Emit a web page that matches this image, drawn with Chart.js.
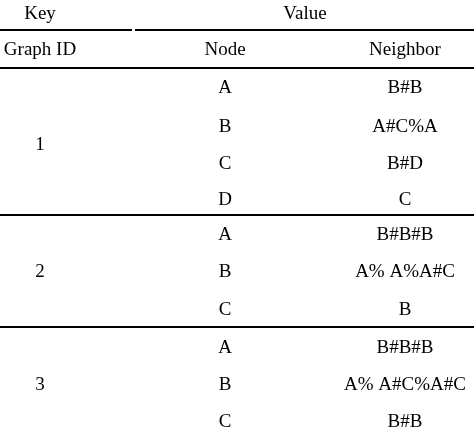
<!DOCTYPE html>
<html><head><meta charset="utf-8">
<script src="https://cdn.jsdelivr.net/npm/chart.js@4/dist/chart.umd.min.js"></script>
<style>html,body{margin:0;padding:0;background:#fff}#w{width:474px;height:437px}</style>
</head><body><div id="w"><canvas id="c"></canvas></div>
<script>
const graphIds = ["1","2","3"];
const nodes = [["A","B","C","D"],["A","B","C"],["A","B","C"]];
const neighbors = [["B#B","A#C%A","B#D","C"],["B#B#B","A% A%A#C","B"],["B#B#B","A% A#C%A#C","B#B"]];
const rowY = [[88,127,164,200],[235,272,310],[348,385,422]];
const groupY = [145,272,385];
const headerTop = ["Key","Value"];
const headerSub = ["Graph ID","Node","Neighbor"];
const colX = [40,225,405];

const texts = [];
texts.push({x:40,y:14,t:headerTop[0]});
texts.push({x:305,y:14,t:headerTop[1]});
headerSub.forEach((h,i)=>texts.push({x:colX[i],y:50,t:h}));
graphIds.forEach((g,gi)=>{
  texts.push({x:colX[0],y:groupY[gi],t:g});
  nodes[gi].forEach((n,ri)=>{
    texts.push({x:colX[1],y:rowY[gi][ri],t:n});
    texts.push({x:colX[2],y:rowY[gi][ri],t:neighbors[gi][ri]});
  });
});
const rules = [[0,132,30],[135,474,30],[0,474,68],[0,474,215],[0,474,327]];

const tablePlugin = {id:'tbl', afterDatasetsDraw(chart){
  const {ctx,scales:{x,y}} = chart;
  ctx.save();
  ctx.strokeStyle='#000'; ctx.lineWidth=1.8;
  rules.forEach(r=>{ctx.beginPath();ctx.moveTo(x.getPixelForValue(r[0]),y.getPixelForValue(r[2]));ctx.lineTo(x.getPixelForValue(r[1]),y.getPixelForValue(r[2]));ctx.stroke();});
  ctx.fillStyle='#000'; ctx.font='19px "Liberation Serif","DejaVu Serif",serif';
  ctx.textAlign='center'; ctx.textBaseline='middle';
  chart.data.datasets[0].data.forEach(p=>ctx.fillText(p.t,x.getPixelForValue(p.x),y.getPixelForValue(p.y)));
  ctx.restore();
}};

new Chart(document.getElementById('c'),{
  type:'scatter',
  data:{datasets:[{data:texts,pointRadius:0,pointHoverRadius:0}]},
  options:{responsive:true,maintainAspectRatio:false,animation:false,
    layout:{padding:0},
    plugins:{legend:{display:false},tooltip:{enabled:false}},
    scales:{x:{type:'linear',min:0,max:474,display:false},
            y:{type:'linear',min:0,max:437,reverse:true,display:false}}},
  plugins:[tablePlugin]
});
</script></body></html>
